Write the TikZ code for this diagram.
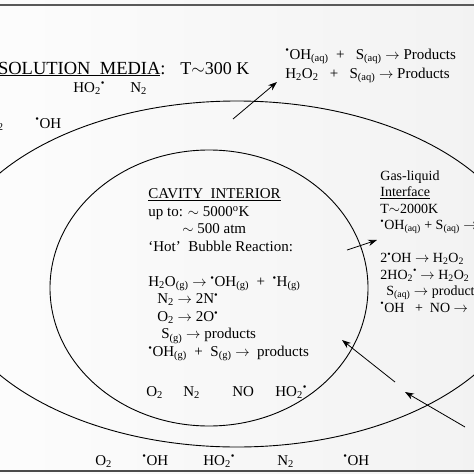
\documentclass[tikz,border=0pt]{standalone}
\usepackage{fontspec}
\setmainfont{Liberation Serif}
\usetikzlibrary{arrows.meta}
\newcommand{\rad}{\textsuperscript{\textbullet}}
\newcommand{\sbs}[1]{\textsubscript{#1}}

\begin{document}
\begin{tikzpicture}[x=1pt,y=-1pt,->,>={Stealth[length=9pt,width=6.5pt]},line width=0.8pt]
        \tikzstyle{species}=[font=\fontsize{15}{17.5}\selectfont,inner sep=0pt,anchor=base west]
        \tikzstyle{block}=[font=\fontsize{15}{17.5}\selectfont,inner sep=0pt,anchor=north west,align=left]
        \tikzstyle{rim}=[-,line width=0.9pt,black]
        \useasboundingbox (0,0) rectangle (474,474);

        % background and frame lines
        \shade[left color=gray!2,right color=gray!10] (0,0) rectangle (474,474);
        \draw[-,line width=1.8pt,gray!70!black] (0,5) -- (474,5);
        \draw[-,line width=1.5pt,gray!60!black] (0,471) -- (474,471);

        % bulk liquid and bubble
        \draw[rim] (237,274) ellipse [x radius=292, y radius=173];
        \draw[rim] (209,288) ellipse [x radius=159, y radius=138];

        % solution media
        \node[species,anchor=base east,font=\fontsize{18.5}{20}\selectfont] (media) at (166,74) {\underline{SOLUTION\ \ MEDIA}:};
        \node[species,font=\fontsize{18}{20}\selectfont] (temp) at (180,74) {T$\sim$300 K};
        \node[species] (ho2Top) at (73,92)  {HO\sbs{2}\rad};
        \node[species] (n2Top)  at (130,92) {N\sbs{2}};
        \node[species,anchor=base east] (o2Left) at (4,128) {O\sbs{2}};
        \node[species] (ohTop)  at (35,128) {\rad OH};

        \node[species] (rxnOH)  at (285,59) {\rad OH\sbs{(aq)}\ \ +\ \ \ S\sbs{(aq)} $\to$ Products};
        \node[species] (rxnHOO) at (285,78) {H\sbs{2}O\sbs{2}\ \ \ +\ \ \ S\sbs{(aq)} $\to$ Products};

        % cavity interior
        \node[block] (cavity) at (148,188.5) {\underline{CAVITY\ \ INTERIOR}\\
          up to: $\sim$ 5000\textsuperscript{o}K\\
          \hspace*{34pt}$\sim$ 500 atm\\
          `Hot'\ \ Bubble Reaction:\\
          \mbox{}\\
          H\sbs{2}O\sbs{(g)} $\to$ \rad OH\sbs{(g)}\ \ +\ \ \rad H\sbs{(g)}\\
          \hspace*{9pt}N\sbs{2} $\to$ 2N\rad\\
          \hspace*{9pt}O\sbs{2} $\to$ 2O\rad\\
          \hspace*{13pt}S\sbs{(g)} $\to$ products\\
          \rad OH\sbs{(g)}\ \ +\ \ S\sbs{(g)} $\to$\ \ products};

        \node[species] (o2Gas)  at (146,396) {O\sbs{2}};
        \node[species] (n2Gas)  at (183,396) {N\sbs{2}};
        \node[species] (noGas)  at (232,396) {NO};
        \node[species] (ho2Gas) at (275,396) {HO\sbs{2}\rad};

        % gas-liquid interface
        \node[block,font=\fontsize{14}{16.5}\selectfont] (interface) at (380,170) {Gas-liquid\\
          \underline{Interface}\\
          T$\sim$2000K\\
          \rad OH\sbs{(aq)} + S\sbs{(aq)} $\to$\\
          \mbox{}\\
          2\rad OH $\to$ H\sbs{2}O\sbs{2}\\
          2HO\sbs{2}\rad\ $\to$ H\sbs{2}O\sbs{2}\\
          \hspace*{6pt}S\sbs{(aq)} $\to$ products\\
          \rad OH\ \ \ +\ \ NO $\to$};

        % bulk species
        \node[species] (o2Bulk)  at (95,465)  {O\sbs{2}};
        \node[species] (ohBulkA) at (142,465) {\rad OH};
        \node[species] (ho2Bulk) at (203,465) {HO\sbs{2}\rad};
        \node[species] (n2Bulk)  at (277,465) {N\sbs{2}};
        \node[species] (ohBulkB) at (343,465) {\rad OH};

        % transfer arrows
        \coordinate (coreOut)  at (233,119);
        \coordinate (coreHead) at (277,82);
        \coordinate (rimOut)   at (347,250);
        \coordinate (rimHead)  at (377,240);
        \coordinate (bulkOut)  at (395,382);
        \coordinate (bulkHead) at (342,340);
        \coordinate (farOut)   at (465,427);
        \coordinate (farHead)  at (405,392);

        \path (coreOut) edge (coreHead)
              (rimOut)  edge (rimHead)
              (bulkOut) edge (bulkHead)
              (farOut)  edge (farHead);
\end{tikzpicture}
\end{document}
